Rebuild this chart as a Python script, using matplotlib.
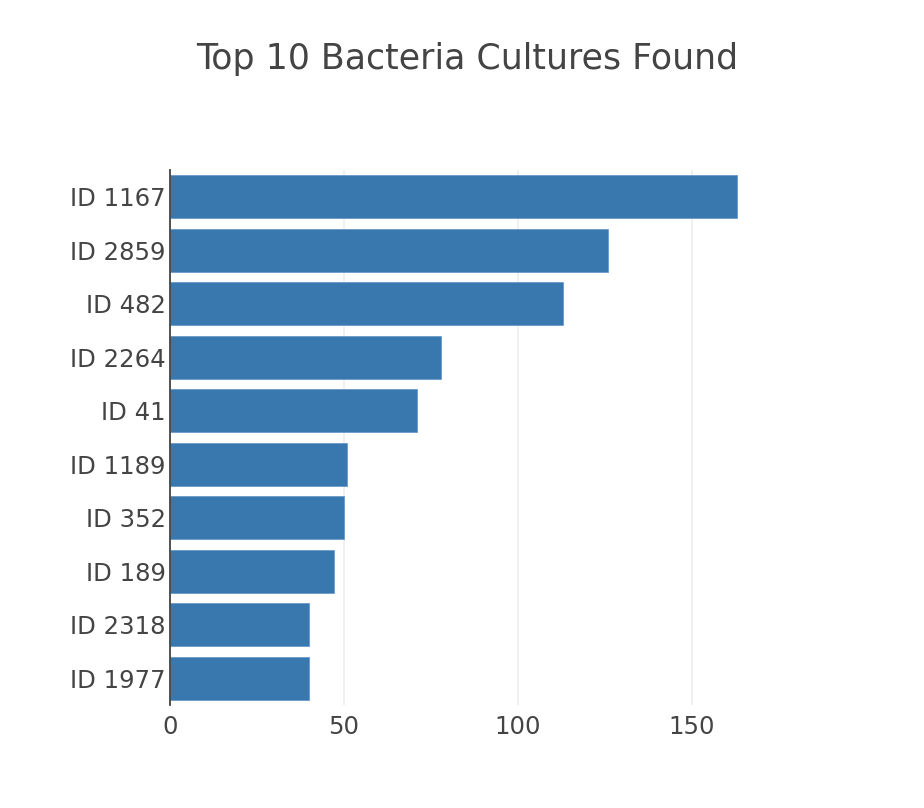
import matplotlib
matplotlib.use("Agg")
import matplotlib.pyplot as plt

# Top 10 OTU ids and sample values
otu_labels = ["ID 1167", "ID 2859", "ID 482", "ID 2264", "ID 41",
              "ID 1189", "ID 352", "ID 189", "ID 2318", "ID 1977"]
sample_values = [163, 126, 113, 78, 71, 51, 50, 47, 40, 40]
x_ticks = [0, 50, 100, 150]

text_color = "#444444"
bar_color = "#3977af"

plt.rcParams["font.family"] = ["DejaVu Sans"]

fig = plt.figure(figsize=(9.24, 8.08), dpi=100)
ax = fig.add_axes([170 / 924, 103 / 808, 597 / 924, 535 / 808])

# plotly puts the first category at the bottom; the chart lists largest on top
y_pos = list(range(len(otu_labels)))[::-1]
ax.barh(y_pos, sample_values, height=0.8, color=bar_color,
        edgecolor="#6a9bc9", linewidth=0.6, zorder=3)

ax.set_xlim(0, max(sample_values) * 1.0526)
ax.set_ylim(-0.5, len(otu_labels) - 0.5)
ax.set_yticks(y_pos)
ax.set_yticklabels(otu_labels)
ax.set_xticks(x_ticks)
ax.set_xticklabels([str(t) for t in x_ticks])

ax.tick_params(axis="both", length=0, labelsize=17.6, colors=text_color)
ax.tick_params(axis="y", pad=3)
ax.tick_params(axis="x", pad=7)

ax.grid(axis="x", color="#eeeeee", linewidth=1.2, zorder=0)
for side in ["top", "right", "bottom"]:
    ax.spines[side].set_visible(False)
ax.spines["left"].set_color(text_color)
ax.spines["left"].set_linewidth(1.3)
ax.spines["left"].set_zorder(4)

fig.text(467 / 924, 1 - 59 / 808, "Top 10 Bacteria Cultures Found",
         ha="center", va="center", fontsize=25, color=text_color)

fig.savefig("out.png", dpi=100, facecolor="white")
